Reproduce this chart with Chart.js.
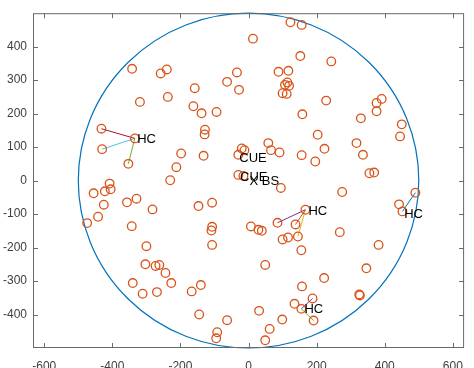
<!DOCTYPE html>
<html>
<head>
<meta charset="utf-8">
<script src="https://cdn.jsdelivr.net/npm/chart.js@4.4.1/dist/chart.umd.min.js"></script>
<style>
  html, body { margin: 0; padding: 0; background: #fff; }
  #wrap { width: 474px; height: 368px; }
</style>
</head>
<body>
<div id="wrap"><canvas id="cellChart" width="474" height="368"></canvas></div>
<script>
// user positions (m)
const userX = [
  -342, -258, -240, -319, -237, -158, -162, -138, -94, -63, -34, -28,
  -432, -334, -430, -353, -198, -212, -230, -132, -128, -129, -20, -12, -30, -30, -15, -408,
  123, 156, 13, 152, 243, 88, 117, 114, 107, 119, 100, 112, 228, 158, 330, 376, 391, 376,
  450, 445, 203, 317, 336, 223, 156, 196, 58, 66, 91, 355, 369,
  -455, -422, -405, -425, -357, -329, -282, -442, -474, -343, -147, -107, -107, -109, -107,
  -300, -303, -273, -262, -244, -227, -340, -311, -269, -167, -140, -145, -63, -92, -95,
  95, 275, 490, 442, 452, 167, 85, 138, 145, 116, 100, 155, 7, 29, 39, 268, 382, 49, 346,
  222, 157, 325, 327, 188, 135, 155, 191, 31, 99, 62, 49
];
const userY = [
  334, 320, 332, 235, 250, 276, 222, 201, 205, 295, 323, 271,
  155, 126, 94, 50, 81, 40, 1, 74, 152, 138, 96, 91, 77, 17, 14, -9,
  473, 465, 424, 372, 356, 325, 328, 293, 286, 283, 261, 259, 239, 198, 186, 232, 244, 207,
  168, 132, 137, 112, 77, 95, 76, 57, 112, 91, 84, 22, 24,
  -38, -32, -26, -72, -65, -54, -86, -108, -127, -136, -76, -66, -138, -149, -192,
  -196, -250, -255, -252, -276, -306, -306, -338, -333, -331, -312, -400, -417, -453, -471,
  -22, -34, -36, -71, -92, -87, -126, -131, -167, -170, -176, -208, -137, -147, -150, -154, -192, -252, -262,
  -291, -316, -340, -343, -352, -368, -383, -418, -389, -415, -443, -477
];

// HC links
const linkX1 = [-334, -334, -334, 167, 167, 167, 452, 155, 155];
const linkY1 = [126, 126, 126, -87, -87, -87, -92, -383, -383];
const linkX2 = [-432, -430, -353, 85, 138, 145, 490, 188, 191];
const linkY2 = [155, 94, 50, -126, -131, -167, -36, -352, -418];
const linkColors = ['#A2142F', '#4DBEEE', '#77AC30', '#7E2F8E', '#D95319', '#EDB120', '#0072BD', '#7E2F8E', '#77AC30'];

// text labels
const labelText = ['HC', 'HC', 'HC', 'HC', 'CUE', 'CUE', 'X BS'];
const labelX = [-327, 176, 457, 164, -27, -25, 3];
const labelY = [122, -91, -101, -384, 66, 10, -3];

const xTicks = [-600, -400, -200, 0, 200, 400, 600];
const yTicks = [-400, -300, -200, -100, 0, 100, 200, 300, 400];
const cellRadius = 500;

const userPoints = userX.map((v, i) => ({ x: v, y: userY[i] }));

const linkSets = linkX1.map((v, i) => ({
  data: [{ x: v, y: linkY1[i] }, { x: linkX2[i], y: linkY2[i] }],
  showLine: true,
  borderColor: linkColors[i],
  borderWidth: 1,
  pointRadius: 0
}));

const cellPlugin = {
  id: 'cell',
  beforeDatasetsDraw(chart) {
    const { ctx, scales: { x, y } } = chart;
    const cx = x.getPixelForValue(0), cy = y.getPixelForValue(0);
    const rx = x.getPixelForValue(cellRadius) - cx;
    const ry = cy - y.getPixelForValue(cellRadius);
    ctx.save();
    ctx.strokeStyle = '#0072BD';
    ctx.lineWidth = 1.2;
    ctx.beginPath();
    ctx.ellipse(cx, cy, rx, ry, 0, 0, Math.PI * 2);
    ctx.stroke();
    ctx.restore();
  },
  afterDatasetsDraw(chart) {
    const { ctx, scales: { x, y } } = chart;
    ctx.save();
    ctx.font = '13px "Liberation Sans", Arial, sans-serif';
    ctx.fillStyle = '#000';
    ctx.textAlign = 'left';
    ctx.textBaseline = 'middle';
    labelText.forEach((t, i) => {
      ctx.fillText(t, x.getPixelForValue(labelX[i]), y.getPixelForValue(labelY[i]));
    });
    ctx.restore();
  },
  afterDraw(chart) {
    const { ctx, chartArea: a, scales: { x, y } } = chart;
    const tl = 5;
    ctx.save();
    ctx.strokeStyle = '#6a6a6a';
    ctx.lineWidth = 1;
    ctx.strokeRect(a.left + 0.5, a.top + 0.5, a.right - a.left - 1, a.bottom - a.top - 1);
    ctx.beginPath();
    xTicks.forEach(v => {
      const px = Math.round(x.getPixelForValue(v)) + 0.5;
      ctx.moveTo(px, a.bottom); ctx.lineTo(px, a.bottom - tl);
      ctx.moveTo(px, a.top); ctx.lineTo(px, a.top + tl);
    });
    yTicks.forEach(v => {
      const py = Math.round(y.getPixelForValue(v)) + 0.5;
      ctx.moveTo(a.left, py); ctx.lineTo(a.left + tl, py);
      ctx.moveTo(a.right, py); ctx.lineTo(a.right - tl, py);
    });
    ctx.stroke();
    ctx.restore();
  }
};

const tickFont = { family: '"Liberation Sans", Arial, sans-serif', size: 12 };

new Chart(document.getElementById('cellChart').getContext('2d'), {
  type: 'scatter',
  data: {
    datasets: [{
      data: userPoints,
      pointStyle: 'circle',
      pointRadius: 4.3,
      borderWidth: 1.3,
      borderColor: '#D95319',
      backgroundColor: 'rgba(0,0,0,0)'
    }].concat(linkSets)
  },
  options: {
    responsive: false,
    devicePixelRatio: 1,
    animation: false,
    events: [],
    layout: { padding: { top: 2, right: 2, left: 0, bottom: 0 } },
    plugins: { legend: { display: false }, tooltip: { enabled: false } },
    scales: {
      x: {
        type: 'linear', min: -633, max: 633,
        grid: { display: false, drawTicks: false },
        border: { display: false },
        afterBuildTicks: s => { s.ticks = xTicks.map(v => ({ value: v })); },
        afterFit: s => { s.height = 20; },
        ticks: { font: tickFont, color: '#404040', padding: 11, maxRotation: 0, autoSkip: false }
      },
      y: {
        type: 'linear', min: -500, max: 500,
        grid: { display: false, drawTicks: false },
        border: { display: false },
        afterBuildTicks: s => { s.ticks = yTicks.map(v => ({ value: v })); },
        afterFit: s => { s.width = 33; },
        ticks: { font: tickFont, color: '#404040', padding: 6, autoSkip: false }
      }
    }
  },
  plugins: [cellPlugin]
});
</script>
</body>
</html>
